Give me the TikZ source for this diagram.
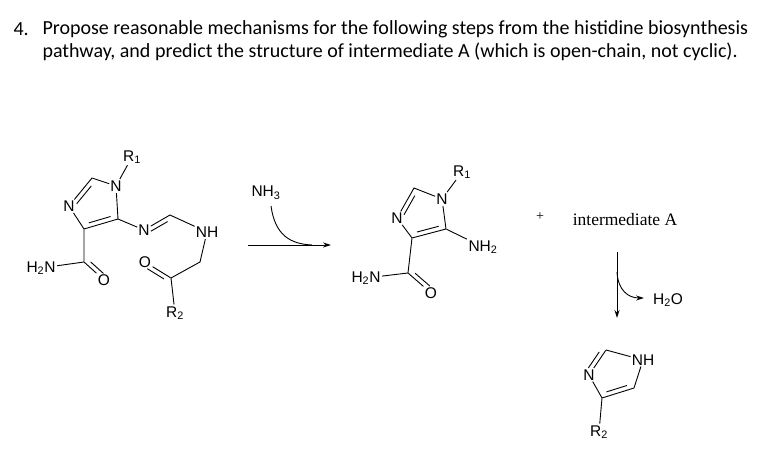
\documentclass[tikz,border=0pt]{standalone}
\usepackage{fontspec}
\setmainfont{Carlito}
\newfontfamily\chemfont{Liberation Sans}
\newfontfamily\serfont{Liberation Serif}
\usetikzlibrary{calc,arrows.meta}
\tikzset{
    atom/.style={font=\chemfont\fontsize{15.5}{17}\selectfont, inner sep=1pt},
    bond/.style={line width=0.9pt, shorten <=0.5pt, shorten >=0.5pt},
    rxn/.style={line width=0.9pt, -{Stealth[length=8pt,width=5pt]}}
}
% inner line of a double bond: \innerbond{from}{to}{side angle}
\newcommand{\innerbond}[3]{\draw[line width=0.9pt] ($($(#1)!.18!(#2)$)!4.5pt!#3:(#2)$) -- ($($(#2)!.18!(#1)$)!4.5pt!-#3:(#1)$);}

\begin{document}
\begin{tikzpicture}[x=1pt,y=-1pt]
                \useasboundingbox (0,0) rectangle (778,454);
                % Question text
                \node[anchor=west, font=\fontsize{20}{24}\selectfont] (num) at (10,29) {4.};
                \node[anchor=west, font=\fontsize{20}{24}\selectfont] (line1) at (39,29) {Propose reasonable mechanisms for the following steps from the histidine biosynthesis};
                \node[anchor=west, font=\fontsize{20}{24}\selectfont] (line2) at (39,52) {pathway, and predict the structure of intermediate A (which is open-chain, not cyclic).};

                % Starting material
                \node[atom] (r1a) at (132,157) {R\textsubscript{1}};
                \node[atom] (n1a) at (116,186) {N};
                \coordinate (c2a) at (92,178);
                \node[atom] (n3a) at (69,206) {N};
                \coordinate (c4a) at (84,229);
                \coordinate (c5a) at (118,219);
                \coordinate (cca) at (84,262);
                \node[atom] (oa) at (104,280) {O};
                \node[atom] (h2na) at (41,268) {H\textsubscript{2}N};
                \node[atom] (nima) at (144,230) {N};
                \coordinate (cha) at (170,215);
                \node[atom] (nha) at (207,232) {NH};
                \coordinate (ch2a) at (200,262);
                \coordinate (coa) at (171,278);
                \node[atom] (ooa) at (145,262) {O};
                \node[atom] (r2a) at (175,313) {R\textsubscript{2}};
                \draw[bond] (r1a) -- (n1a);
                \draw[bond] (n1a) -- (c2a) -- (n3a) -- (c4a) -- (c5a) -- (n1a);
                \innerbond{c2a}{n3a}{90}
                \innerbond{c4a}{c5a}{90}
                \draw[bond] (c4a) -- (cca) -- (h2na);
                \draw[bond] (cca) -- (oa);
                \innerbond{cca}{oa}{90}
                \draw[bond] (c5a) -- (nima) -- (cha) -- (nha) -- (ch2a) -- (coa) -- (r2a);
                \innerbond{nima}{cha}{-90}
                \draw[bond] (coa) -- (ooa);
                \innerbond{coa}{ooa}{90}

                % Reaction arrow with NH3
                \coordinate (arrs) at (248,245);
                \coordinate (arre) at (331,245);
                \draw[rxn] (arrs) -- (arre);
                \node[atom] (nh3) at (266,193) {NH\textsubscript{3}};
                \draw[line width=0.9pt] (271,206) .. controls (275,235) and (290,244) .. (312,245);

                % Product
                \node[atom] (r1b) at (462,172) {R\textsubscript{1}};
                \node[atom] (n1b) at (442,199) {N};
                \coordinate (c2b) at (414,188);
                \node[atom] (n3b) at (397,218) {N};
                \coordinate (c4b) at (412,238);
                \coordinate (c5b) at (446,229);
                \node[atom] (nh2b) at (483,247) {NH\textsubscript{2}};
                \coordinate (ccb) at (408,273);
                \node[atom] (ob) at (431,293) {O};
                \node[atom] (h2nb) at (366,278) {H\textsubscript{2}N};
                \draw[bond] (r1b) -- (n1b);
                \draw[bond] (n1b) -- (c2b) -- (n3b) -- (c4b) -- (c5b) -- (n1b);
                \innerbond{c2b}{n3b}{90}
                \innerbond{c4b}{c5b}{90}
                \draw[bond] (c5b) -- (nh2b);
                \draw[bond] (c4b) -- (ccb) -- (h2nb);
                \draw[bond] (ccb) -- (ob);
                \innerbond{ccb}{ob}{90}

                % Plus intermediate A
                \node[font=\serfont\fontsize{14}{16}\selectfont] (plus) at (540,217) {+};
                \node[font=\serfont\fontsize{17.5}{20}\selectfont] (intA) at (625,220) {intermediate A};

                % Down arrow with H2O
                \coordinate (dws) at (617,252);
                \coordinate (dwe) at (617,318);
                \draw[rxn] (dws) -- (dwe);
                \node[atom] (h2o) at (668,300) {H\textsubscript{2}O};
                \draw[rxn] (617,272) .. controls (618,290) and (628,298) .. (644,298);

                % Imidazole product
                \coordinate (c2c) at (606,350);
                \node[atom] (nhc) at (643,360) {NH};
                \node[atom] (n3c) at (589,375) {N};
                \coordinate (c4c) at (602,398);
                \coordinate (c5c) at (634,388);
                \node[atom] (r2c) at (599,432) {R\textsubscript{2}};
                \draw[bond] (c2c) -- (nhc) -- (c5c) -- (c4c) -- (n3c) -- (c2c);
                \innerbond{c2c}{n3c}{-90}
                \innerbond{c4c}{c5c}{90}
                \draw[bond] (c4c) -- (r2c);
            \end{tikzpicture}
\end{document}
